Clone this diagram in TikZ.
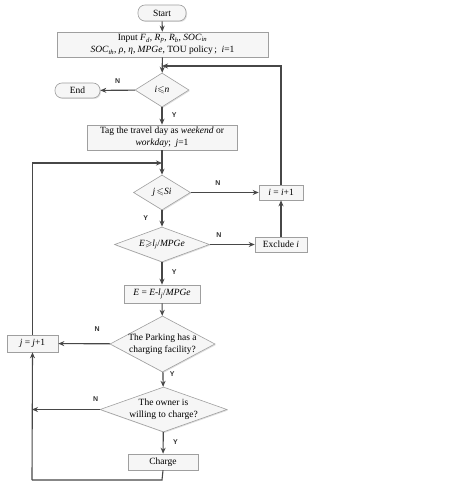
\documentclass[tikz,border=0pt]{standalone}
\usepackage{fontspec}
\usepackage{amssymb}
\setmainfont{Liberation Serif}
\newfontfamily\lblfont{Liberation Sans}
\usetikzlibrary{shapes.geometric,arrows.meta,shadows}
\newcommand{\iv}[1]{\textit{#1}}
\newcommand{\mysb}[1]{\textsubscript{\textit{#1}}}
\begin{document}
\begin{tikzpicture}[x=1pt,y=-1pt,
  font=\fontsize{9.5}{12}\selectfont,
  base/.style={draw=gray!75, fill=gray!7, line width=0.6pt, inner sep=0pt,
    drop shadow={shadow xshift=1pt, shadow yshift=-1pt, opacity=0.25, fill=gray}},
  procbox/.style={base, rectangle, align=center},
  termbox/.style={base, rectangle, rounded corners=7pt},
  decbox/.style={base, diamond},
  conn/.style={draw=black!72, line width=1.1pt},
  arr/.style={conn, -{Stealth[length=6pt,width=5pt]}},
  yn/.style={font=\lblfont\fontsize{7}{8}\selectfont\bfseries, text=black!80}
]
\useasboundingbox (0,0) rectangle (474,486);

\node[termbox, minimum width=48pt, minimum height=16pt] (start) at (162,13) {Start};
\node[procbox, minimum width=211pt, minimum height=25pt] (input) at (162.5,44.5)
  {Input \iv{F}\mysb{d}, \iv{R}\mysb{p}, \iv{R}\mysb{b}, \iv{SOC}\mysb{in}\\
   \iv{SOC}\mysb{th}, \iv{ρ}, \iv{η}, \iv{MPGe}, TOU policy\,; \ \iv{i}=1};
\coordinate (loopi) at (162,66);
\node[decbox, minimum width=54pt, minimum height=34pt,
  label={center:\iv{i}$\leqslant$\iv{n}}] (d1) at (162,90) {};
\node[termbox, minimum width=45pt, minimum height=15pt] (end) at (77.5,90.5) {End};
\node[procbox, minimum width=150pt, minimum height=25pt] (tag) at (162,137.5)
  {Tag the travel day as \iv{weekend} or\\ \iv{workday}; \ \iv{j}=1};
\coordinate (loopj) at (162,163);
\node[decbox, minimum width=57pt, minimum height=35pt,
  label={center:\iv{j}\,$\leqslant$\iv{Si}}] (d2) at (162,192.5) {};
\node[procbox, minimum width=44pt, minimum height=15pt] (inci) at (281,192.5) {\iv{i} = \iv{i}+1};
\node[decbox, minimum width=95pt, minimum height=35pt,
  label={center:\iv{E}$\geqslant$\iv{l}\mysb{j}/\iv{MPGe}}] (d3) at (162,244.5) {};
\node[procbox, minimum width=52pt, minimum height=15pt] (excl) at (281,244.5) {Exclude \iv{i}};
\node[procbox, minimum width=76pt, minimum height=18pt] (upd) at (162,294) {\iv{E} = \iv{E}-\iv{l}\mysb{j}/\iv{MPGe}};
\node[decbox, minimum width=105pt, minimum height=56pt,
  label={[align=center]center:The Parking has a\\charging facility?}] (d4) at (162.5,344) {};
\node[procbox, minimum width=51pt, minimum height=17pt] (incj) at (32.5,343.5) {\iv{j} = \iv{j}+1};
\node[decbox, minimum width=127pt, minimum height=45pt,
  label={[align=center]center:The owner is\\willing to charge?}] (d5) at (163.5,409.5) {};
\coordinate (leftn) at (32,409.5);
\node[procbox, minimum width=70pt, minimum height=16pt] (charge) at (163,462) {Charge};
\coordinate (bl) at (32,480);
\coordinate (br) at (162,480);

\draw[arr] (start) -- (input);
\draw[arr] (input) -- (d1);
\draw[arr] (d1) -- node[yn, above=3pt, pos=0.5] {N} (end);
\draw[arr] (d1) -- node[yn, right=6pt, pos=0.45] {Y} (tag);
\draw[arr] (tag) -- (d2);
\draw[arr] (d2) -- node[yn, above=3pt, pos=0.4] {N} (inci);
\draw[arr] (d2) -- node[yn, left=10pt, pos=0.45] {Y} (d3);
\draw[arr] (d3) -- node[yn, above=3pt, pos=0.2] {N} (excl);
\draw[arr] (excl) -- (inci);
\draw[arr] (inci.north) |- (loopi);
\draw[arr] (d3) -- node[yn, right=6pt, pos=0.45] {Y} (upd);
\draw[arr] (upd) -- (d4);
\draw[arr] (d4) -- node[yn, above=8pt, pos=0.25] {N} (incj);
\draw[arr] (d4) -- node[yn, right=3pt, pos=0.15] {Y} (d5);
\draw[arr] (d5) -- node[yn, above=4pt, pos=0.0, xshift=-4pt] {N} (leftn);
\draw[arr] (d5) -- node[yn, right=6pt, pos=0.45] {Y} (charge);
\draw[conn] (charge.south) -- (br) -- (bl);
\draw[arr] (bl) -- (incj.south);
\draw[arr] (incj.north) |- (loopj);
\end{tikzpicture}
\end{document}
